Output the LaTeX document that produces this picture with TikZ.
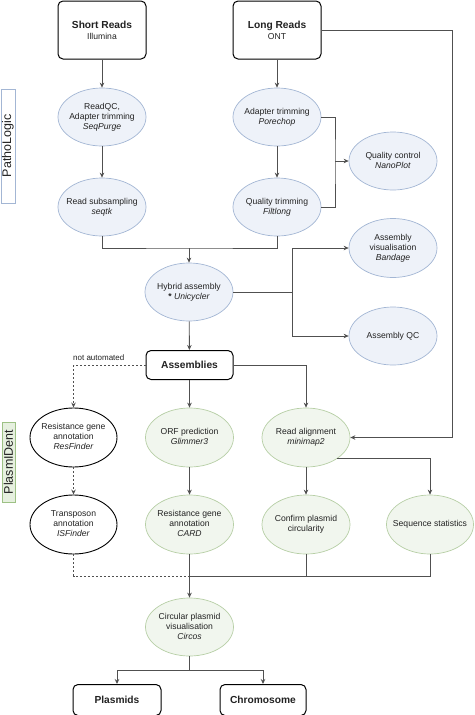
\documentclass[tikz,border=0pt]{standalone}
\usepackage{fontspec}
\setmainfont{Liberation Sans}
\usetikzlibrary{shapes.geometric,arrows.meta}
\definecolor{bfill}{HTML}{EEF2F9}
\definecolor{bdraw}{HTML}{A3B6D4}
\definecolor{gfill}{HTML}{F1F6EE}
\definecolor{gdraw}{HTML}{B7CFA6}
\definecolor{pgfillc}{HTML}{E6F0DF}
\definecolor{pgdraw}{HTML}{9DC185}
\definecolor{linec}{HTML}{505050}
\definecolor{txt}{HTML}{222222}
\newcommand{\fsn}{\fontsize{8.6}{10}\selectfont}
\newcommand{\fsb}{\fontsize{10.2}{12}\selectfont\bfseries}
\newcommand{\ET}[1]{\makebox[0pt]{\begin{tabular}{@{}c@{}}#1\end{tabular}}}
\begin{document}
\begin{tikzpicture}[x=1pt,y=-1pt,
  every node/.style={text=txt},
  ell/.style={ellipse,minimum width=88,minimum height=58,inner sep=0,font=\fsn,line width=0.7pt},
  bl/.style={ell,fill=bfill,draw=bdraw},
  gr/.style={ell,fill=gfill,draw=gdraw},
  bk/.style={ell,fill=white,draw=black,line width=0.9pt},
  rbox/.style={rectangle,rounded corners=5,draw=black,fill=white,line width=1pt,minimum width=88,minimum height=58,inner sep=0,align=center},
  conn/.style={draw=linec,line width=0.9pt},
  arr/.style={conn,-{Stealth[length=5pt,width=4.5pt]}},
  dsh/.style={dash pattern=on 2pt off 2pt}
]
\useasboundingbox (0,0) rectangle (474,715);

% side labels
\node[rotate=90,draw=bdraw,fill=white,line width=0.7pt,minimum width=114,minimum height=14,inner sep=0,font=\fontsize{12.5}{14}\selectfont] (pl1) at (8,146) {PathoLogic};
\node[rotate=90,draw=pgdraw,fill=pgfillc,line width=0.7pt,minimum width=80,minimum height=13,inner sep=0,font=\fontsize{12.5}{14}\selectfont] (pl2) at (8.5,462) {PlasmIDent};

% top boxes
\node[rbox] (sr) at (102,30) {{\fsb Short Reads}\\[-1pt]{\fsn Illumina}};
\node[rbox] (lr) at (277,30) {{\fsb Long Reads}\\[-1pt]{\fsn ONT}};

% PathoLogic ellipses
\node[bl] (rq) at (102,117) {\ET{ReadQC,\\Adapter trimming\\\textit{SeqPurge}}};
\node[bl] (rs) at (102,207) {\ET{Read subsampling\\\textit{seqtk}}};
\node[bl] (pc) at (277,117) {\ET{Adapter trimming\\\textit{Porechop}}};
\node[bl] (fl) at (277,207) {\ET{Quality trimming\\\textit{Filtlong}}};
\node[bl] (qc) at (393,161) {\ET{Quality control\\\textit{NanoPlot}}};
\node[bl] (hy) at (189,292) {\ET{Hybrid assembly\\\textbf{*} \textit{Unicycler}}};
\node[bl,minimum height=59] (bd) at (393,248) {\ET{Assembly\\visualisation\\\textit{Bandage}}};
\node[bl] (aq) at (393,336) {\ET{Assembly QC}};

% Assemblies
\node[rbox,minimum width=87,minimum height=29,font=\fsb] (as) at (189.5,365) {Assemblies};

% PlasmIDent ellipses
\node[bk,minimum width=87,minimum height=59] (rf) at (73.5,437.5) {\ET{Resistance gene\\annotation\\\textit{ResFinder}}};
\node[gr,minimum height=59] (orf) at (189.5,437.5) {\ET{ORF prediction\\\textit{Glimmer3}}};
\node[gr,minimum height=59] (ra) at (306,437.5) {\ET{Read alignment\\\textit{minimap2}}};
\node[bk,minimum width=87,minimum height=59] (tp) at (73.5,524.5) {\ET{Transposon\\annotation\\\textit{ISFinder}}};
\node[gr,minimum height=59] (cd) at (189.5,524.5) {\ET{Resistance gene\\annotation\\\textit{CARD}}};
\node[gr,minimum height=59] (cp) at (306,524.5) {\ET{Confirm plasmid\\circularity}};
\node[gr,minimum width=87,minimum height=59] (ss) at (430,524.5) {\ET{Sequence statistics}};
\node[gr] (ci) at (189.5,627) {\ET{Circular plasmid\\visualisation\\\textit{Circos}}};

% bottom boxes
\node[rbox,minimum width=88,minimum height=31,font=\fsb] (pm) at (117,700) {Plasmids};
\node[rbox,minimum width=86,minimum height=31,font=\fsb] (ch) at (263,700) {Chromosome};

% coordinates
\coordinate (rc) at (452,30);
\coordinate (jq) at (335,161);
\coordinate (jm) at (189,248);
\coordinate (jh) at (292,292);
\coordinate (jb) at (189.5,576);
\coordinate (jc) at (189.5,670);

% connectors
\draw[arr] (sr) -- (rq);
\draw[arr] (rq) -- (rs);
\draw[arr] (lr) -- (pc);
\draw[arr] (pc) -- (fl);
\draw[conn] (pc.east) -| (jq) |- (fl.east);
\draw[arr] (jq) -- (qc.west);
\draw[arr] (lr.east) -- (rc) |- (ra.east);
\draw[conn] (rs.south) |- (jm) -| (fl.south);
\draw[arr] (jm) -- (hy.north);
\draw[conn] (hy.east) -- (jh);
\draw[arr] (jh) |- (bd.west);
\draw[arr] (jh) |- (aq.west);
\draw[arr] (hy) -- (as);
\draw[arr,dsh] (as.west) -| (rf.north);
\node[anchor=south west,font=\fontsize{8}{10}\selectfont,inner sep=0] (na) at (73,361) {not automated};
\draw[arr] (as.east) -| (ra.north);
\draw[arr] (as) -- (orf);
\draw[arr,dsh] (rf) -- (tp);
\draw[arr] (orf) -- (cd);
\draw[arr] (ra) -- (cp);
\draw[arr] (ra.-34) -| (ss.north);
\draw[conn,dsh] (tp.south) |- (jb);
\draw[conn] (cd.south) -- (jb);
\draw[conn] (cp.south) |- (jb);
\draw[conn] (ss.south) |- (jb);
\draw[arr] (jb) -- (ci.north);
\draw[conn] (ci.south) -- (jc);
\draw[arr] (jc) -| (pm.north);
\draw[arr] (jc) -| (ch.north);
\end{tikzpicture}
\end{document}
